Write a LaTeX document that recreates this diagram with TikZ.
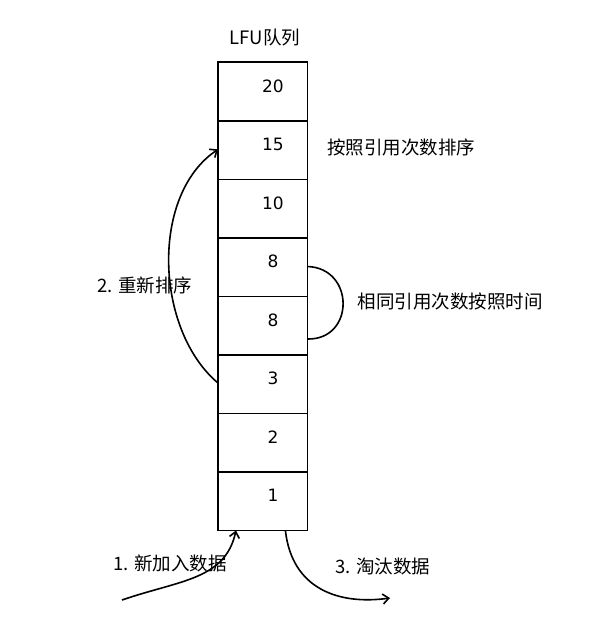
\documentclass[tikz,border=0pt]{standalone}
\usepackage{fontspec}
\setmainfont{DejaVu Sans}
\newfontfamily\cjk{Noto Sans CJK SC}
\usetikzlibrary{arrows.meta}
\begin{document}
\begin{tikzpicture}[x=1pt,y=-1pt,
  cell/.style={minimum width=89pt,minimum height=58.5pt,inner sep=0pt,anchor=north west},
  box/.style={line width=1.8pt},
  num/.style={font=\fontsize{17}{19}\selectfont},
  lbl/.style={font=\cjk\fontsize{18.5}{20}\selectfont},
  arr/.style={line width=1.6pt,-{Straight Barb[length=6pt,width=10pt]}}]
\useasboundingbox (0,0) rectangle (606,630);
\foreach \n/\v [count=\i from 0] in {a/20,b/15,c/10,d/8,e/8,f/3,g/2,h/1}{
  \node[cell] (\n) at (218,62+58.5*\i) {};
  \node[num] (t\n) at (273,86+58.5*\i) {\v};
}
\draw[box] (a.north west) rectangle (h.south east);
\foreach \n in {a,b,c,d,e,f,g}{\draw[box] (\n.south west) -- (\n.south east);}
\node[lbl] (title) at (265,38) {LFU队列};
\node[lbl] (l1) at (401,147) {按照引用次数排序};
\node[lbl] (l2) at (145,285) {2. 重新排序};
\node[lbl] (l3) at (450,301) {相同引用次数按照时间};
\node[lbl] (l4) at (170,563) {1. 新加入数据};
\node[lbl] (l5) at (383,566) {3. 淘汰数据};
\coordinate (s1) at (122,600);
\coordinate (e3) at (390,598);
\draw[arr] ([yshift=30pt]g.north west) .. controls (155,330) and (150,195) .. ([yshift=30pt]b.south west);
\draw[line width=1.6pt] ([yshift=-29pt]d.north east) .. controls (355,268) and (355,340) .. ([yshift=-43pt]e.north east);
\draw[arr] (s1) .. controls (180,580) and (225,580) .. ([xshift=18pt]h.south west);
\draw[arr] ([xshift=-22pt]h.south east) .. controls (292,590) and (340,605) .. (e3);
\end{tikzpicture}
\end{document}
